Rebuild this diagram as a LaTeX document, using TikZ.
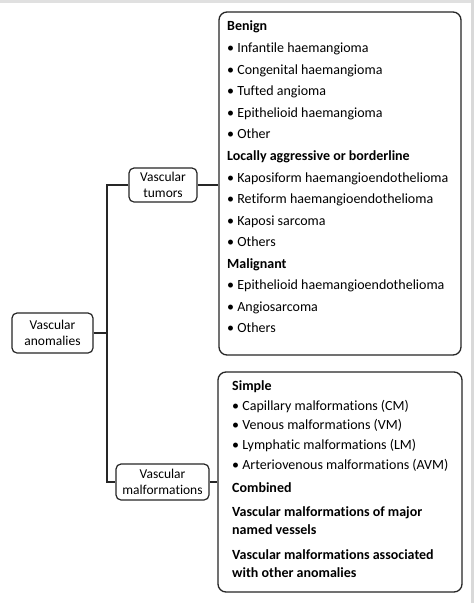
\documentclass[tikz,border=0pt]{standalone}
\usepackage{fontspec}
\setmainfont[Ligatures={NoCommon,NoRare,NoContextual}]{Carlito}
\begin{document}
\begin{tikzpicture}[x=1pt,y=-1pt,
  bigbox/.style={draw=black!85,line width=1.3pt,rounded corners=8pt,inner sep=0pt},
  smallbox/.style={draw=black!85,line width=1.2pt,rounded corners=5pt,inner sep=0pt,align=center,font=\fontsize{13.5}{16}\selectfont},
  line/.style={draw=black!85,line width=1.2pt},
  item/.style={anchor=mid west,inner sep=0pt,font=\fontsize{14}{16}\selectfont},
  head/.style={item,font=\fontsize{14}{16}\selectfont\bfseries}]
\useasboundingbox (0,0) rectangle (474,603);
\fill[white] (0,0) rectangle (474,603);
\fill[black!12] (0,0) rectangle (474,3);
\fill[black!15] (471,0) rectangle (474,603);
% boxes
\node[bigbox,minimum width=242pt,minimum height=343pt] (tbox) at (340,183.5) {};
\node[bigbox,minimum width=244pt,minimum height=220pt] (mbox) at (340,482) {};
\node[smallbox,minimum width=68pt,minimum height=34pt] (tum) at (163,185) {Vascular\\tumors};
\node[smallbox,minimum width=81pt,minimum height=40pt] (anom) at (52.5,333) {Vascular\\anomalies};
\node[smallbox,minimum width=93pt,minimum height=36pt] (mal) at (162.5,482) {Vascular\\malformations};
% connectors
\coordinate (j) at (107,333);
\draw[line] (anom.east) -- (j);
\draw[line] (tum.west) -- (tum.west -| j) -- (mal.west -| j) -- (mal.west);
\draw[line] (tum.east) -- (tum.east -| tbox.west);
\draw[line] (mal.east) -- (mbox.west);
% top box text
\node[head] (t1) at (227,28) {Benign};
\node[item] (t2) at (227,50) {• Infantile haemangioma};
\node[item] (t3) at (227,72) {• Congenital haemangioma};
\node[item] (t4) at (227,93) {• Tufted angioma};
\node[item] (t5) at (227,115) {• Epithelioid haemangioma};
\node[item] (t6) at (227,136) {• Other};
\node[head] (t7) at (227,158) {Locally aggressive or borderline};
\node[item] (t8) at (227,180) {• Kaposiform haemangioendothelioma};
\node[item] (t9) at (227,201) {• Retiform haemangioendothelioma};
\node[item] (t10) at (227,223) {• Kaposi sarcoma};
\node[item] (t11) at (227,244) {• Others};
\node[head] (t12) at (227,266) {Malignant};
\node[item] (t13) at (227,287) {• Epithelioid haemangioendothelioma};
\node[item] (t14) at (227,309) {• Angiosarcoma};
\node[item] (t15) at (227,330) {• Others};
% bottom box text
\node[head] (m1) at (232,388) {Simple};
\node[item] (m2) at (232,408) {• Capillary malformations (CM)};
\node[item] (m3) at (232,427) {• Venous malformations (VM)};
\node[item] (m4) at (232,447) {• Lymphatic malformations (LM)};
\node[item] (m5) at (232,467) {• Arteriovenous malformations (AVM)};
\node[head] (m6) at (232,490) {Combined};
\node[head] (m7) at (232,514) {Vascular malformations of major};
\node[head] (m8) at (232,532) {named vessels};
\node[head] (m9) at (232,557) {Vascular malformations associated};
\node[head] (m10) at (232,575) {with other anomalies};
\end{tikzpicture}
\end{document}
